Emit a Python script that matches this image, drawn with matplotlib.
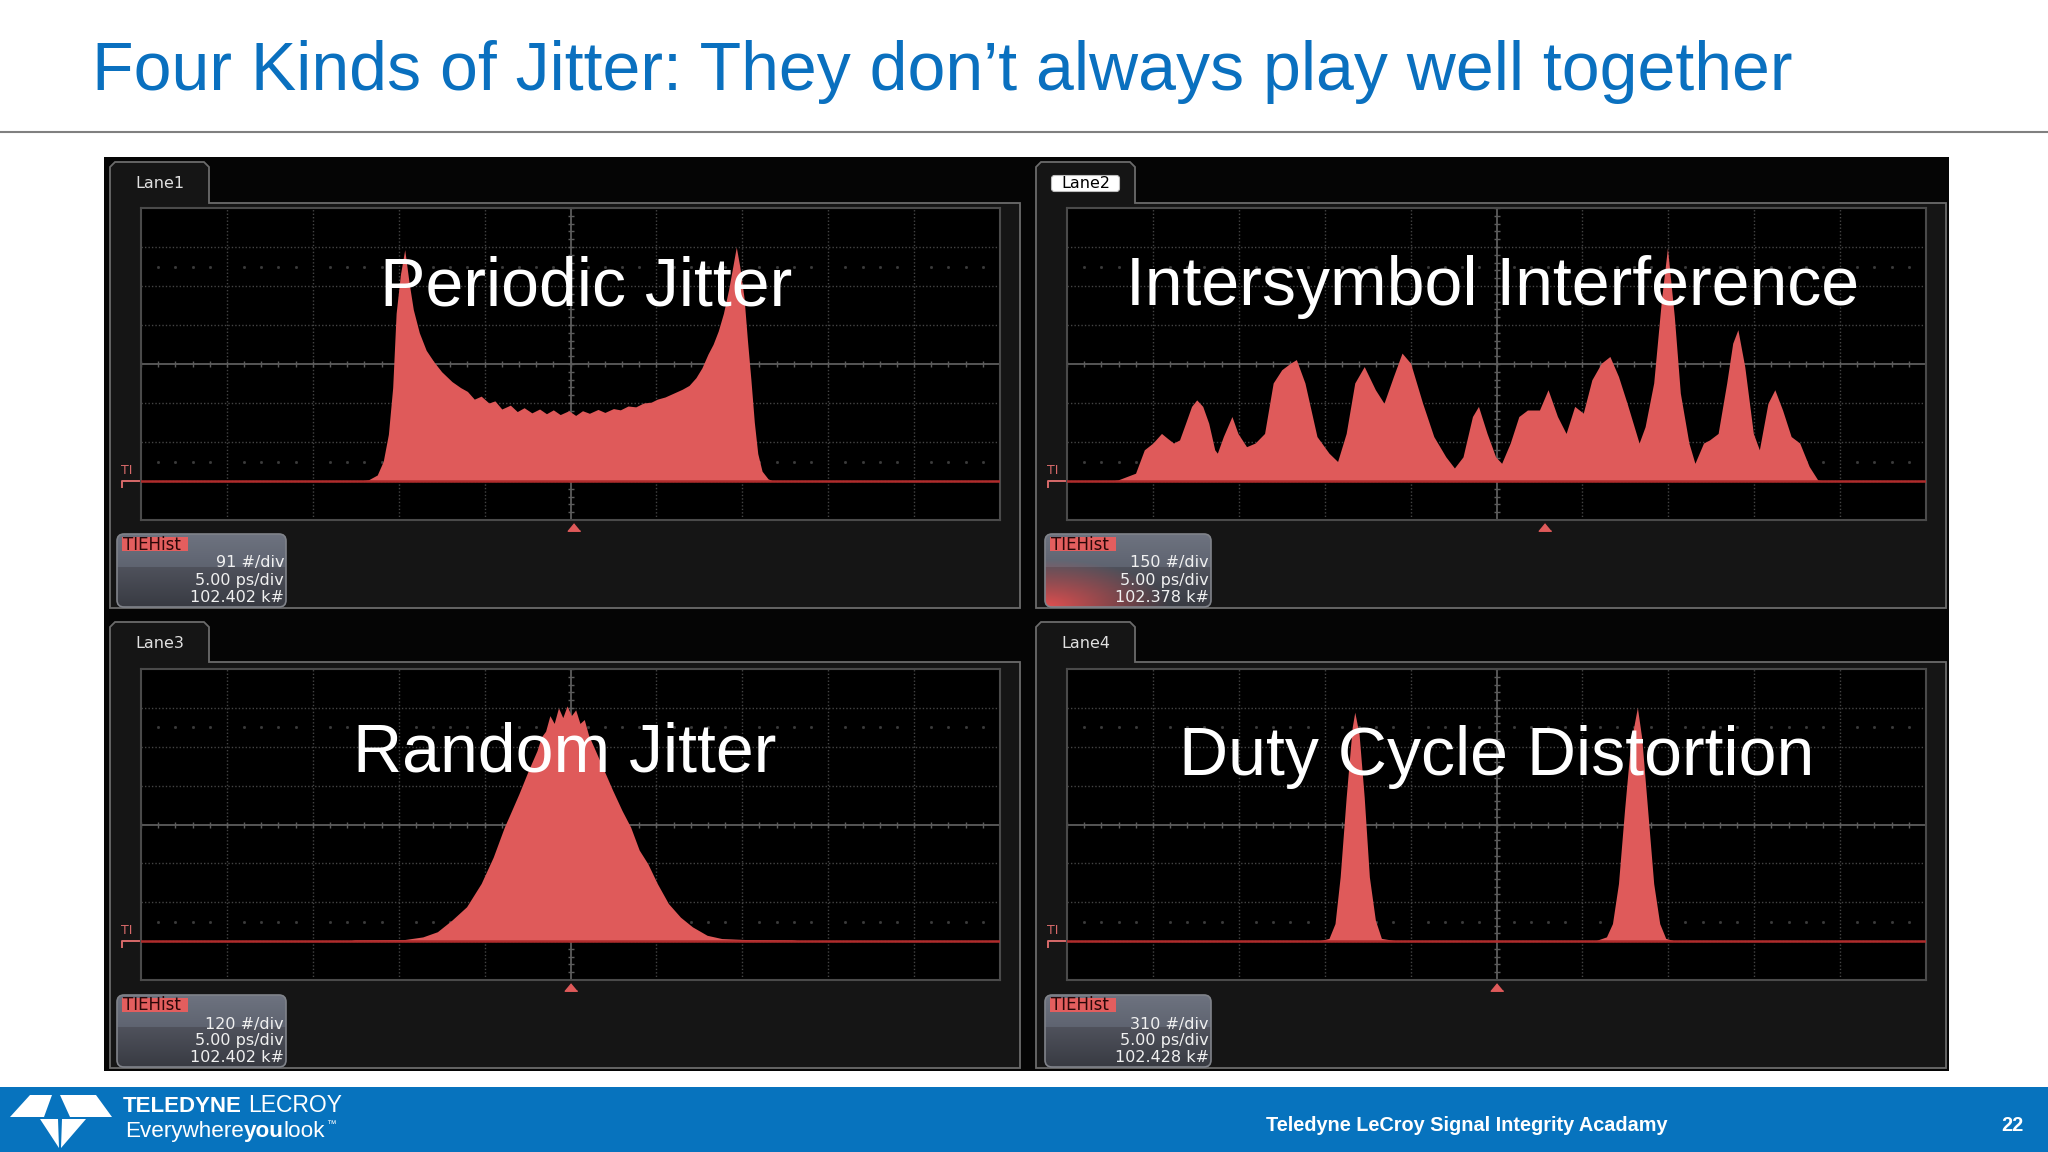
import numpy as np
import matplotlib
matplotlib.use('Agg')
import matplotlib.pyplot as plt
from matplotlib.patches import Rectangle, Polygon, FancyBboxPatch
import matplotlib.transforms as mtransforms

# ---- scope readouts, one entry per lane ----
lanes = ['Lane1', 'Lane2', 'Lane3', 'Lane4']
labels = ['Periodic Jitter', 'Intersymbol Interference', 'Random Jitter', 'Duty Cycle Distortion']
per_div = [91, 150, 120, 310]              # counts per vertical division
time_div = ['5.00 ps/div', '5.00 ps/div', '5.00 ps/div', '5.00 ps/div']
totals = ['102.402 k#', '102.378 k#', '102.402 k#', '102.428 k#']
trigger_ps = [0.2, 2.85, 0.0, 0.0]

# ---- TIE histograms: time (ps) vs counts ----
pj_t = [-12.25, -11.75, -11.25, -10.9, -10.6, -10.35, -10.15, -9.9, -9.65, -9.4,
        -9.15, -8.8, -8.4, -7.95, -7.5, -6.9, -6.4, -6.0, -5.6, -5.2,
        -4.75, -4.4, -4.0, -3.5, -3.1, -2.7, -2.25, -1.8, -1.4, -1.0,
        -0.6, -0.1, 0.3, 0.7, 1.1, 1.6, 2.0, 2.5, 2.9, 3.35,
        3.8, 4.25, 4.7, 5.05, 5.5, 6.0, 6.5, 6.9, 7.3, 7.65,
        8.0, 8.3, 8.6, 8.9, 9.2, 9.45, 9.65, 9.85, 10.1, 10.3,
        10.5, 10.7, 10.9, 11.15, 11.5, 11.8]
pj_n = [0, 3, 14, 46, 109, 218, 391, 482, 540, 464,
        400, 346, 305, 278, 255, 232, 218, 209, 191, 198,
        182, 187, 168, 177, 162, 171, 159, 168, 157, 166,
        155, 164, 153, 164, 158, 167, 160, 169, 166, 175,
        173, 182, 184, 191, 196, 205, 214, 223, 241, 264,
        296, 319, 350, 391, 446, 501, 546, 501, 428, 328,
        237, 137, 64, 23, 5, 0]

isi_t = [-22.5, -22.04, -21.01, -20.5, -20.0, -19.5, -19.15, -18.8, -18.45, -18.1,
         -17.75, -17.45, -17.1, -16.75, -16.4, -16.25, -15.9, -15.4, -15.05, -14.55,
         -14.05, -13.5, -13.0, -12.5, -12.0, -11.65, -11.15, -10.45, -9.75, -9.25,
         -8.75, -8.25, -7.7, -7.05, -6.55, -6.0, -5.5, -5.0, -4.3, -3.65,
         -2.95, -2.45, -1.95, -1.4, -1.05, -0.55, -0.05, 0.3, 0.8, 1.3,
         1.8, 2.5, 3.0, 3.55, 4.05, 4.55, 5.05, 5.55, 6.1, 6.6,
         7.1, 7.6, 8.3, 8.65, 9.15, 9.6, 9.95, 10.35, 10.7, 11.2,
         11.55, 12.05, 12.4, 12.9, 13.4, 13.75, 14.05, 14.45, 14.95, 15.3,
         15.8, 16.2, 16.65, 17.15, 17.65, 18.2, 18.7, 19.05]
isi_n = [0, 4, 30, 120, 146, 183, 164, 146, 158, 222,
         287, 312, 287, 222, 120, 107, 171, 248, 183, 132,
         146, 183, 377, 428, 453, 467, 377, 171, 107, 75,
         183, 377, 440, 351, 299, 402, 492, 453, 299, 171,
         93, 50, 93, 248, 287, 183, 93, 68, 146, 248,
         273, 273, 351, 248, 183, 287, 261, 389, 453, 479,
         402, 299, 146, 209, 377, 696, 896, 633, 338, 146,
         68, 146, 158, 183, 377, 530, 582, 440, 183, 120,
         299, 351, 273, 171, 146, 56, 4, 0]

rj_t = [-13.0, -12.55, -9.65, -8.6, -7.75, -6.9, -6.05, -5.2, -4.5, -3.85,
        -3.5, -3.0, -2.45, -1.95, -1.7, -1.45, -1.2, -0.95, -0.7, -0.45,
        -0.2, 0.05, 0.3, 0.55, 0.8, 1.05, 1.45, 1.95, 2.45, 3.0,
        3.5, 4.0, 4.5, 5.05, 5.7, 6.4, 7.1, 7.95, 8.8, 10.15,
        12.9, 13.5]
rj_n = [0, 4, 5, 13, 29, 65, 106, 178, 259, 352,
        394, 455, 527, 588, 630, 648, 696, 672, 720, 690,
        726, 696, 714, 672, 684, 636, 588, 527, 466, 403,
        352, 281, 239, 178, 116, 74, 44, 18, 8, 5,
        4, 0]

dcd_t = [-10.6, -10.3, -9.75, -9.4, -9.1, -8.75, -8.4, -8.25, -8.0, -7.7,
         -7.4, -7.05, -6.7, -5.85, -5.5,
         5.5, 5.75, 6.4, 6.75, 7.1, 7.45, 7.8, 8.2, 8.45, 8.8,
         9.15, 9.5, 9.85, 10.35, 10.6]
dcd_n = [0, 3, 22, 140, 512, 1147, 1705, 1826, 1652, 1147,
         512, 167, 22, 3, 0,
         0, 3, 34, 140, 459, 1042, 1572, 1863, 1624, 1042,
         459, 140, 22, 3, 0]

hists = [(pj_t, pj_n), (isi_t, isi_n), (rj_t, rj_n), (dcd_t, dcd_n)]

W, H = 2048, 1152
HIST = '#df5a5a'
BLUE = '#0a70bf'
SANS = 'Liberation Sans'

fig = plt.figure(figsize=(W / 100, H / 100), dpi=100)
fig.patch.set_facecolor('white')


def px_axes(x0, y0, x1, y1, **kw):
    return fig.add_axes([x0 / W, 1 - y1 / H, (x1 - x0) / W, (y1 - y0) / H], **kw)


bg = px_axes(0, 0, W, H)
bg.set_xlim(0, W)
bg.set_ylim(H, 0)
bg.axis('off')

# slide title + rule
bg.text(92, 90, 'Four Kinds of Jitter: They don\u2019t always play well together',
        fontsize=49, color=BLUE, family=SANS, va='baseline', ha='left')
bg.plot([0, W], [132, 132], color='#808080', lw=1.5)

# black scope screenshot
bg.add_patch(Rectangle((104, 156.5), 1845, 914.5, fc='#050505', ec='none', zorder=1))

panel_x = [(110, 1020), (1036, 1946), (110, 1020), (1036, 1946)]
panel_y = [(162, 203, 608), (162, 203, 608), (622, 662, 1068), (622, 662, 1068)]
grid_px = [(141, 208, 1000, 520), (1067, 208, 1926, 520),
           (141, 669, 1000, 980), (1067, 669, 1926, 980)]
box_px = [(117, 534, 286, 607), (1045, 534, 1211, 607),
          (117, 995, 286, 1067), (1045, 995, 1211, 1067)]
label_pos = [(586, 305), (1493, 305), (565, 772), (1497, 775)]

for i in range(4):
    x0, x1 = panel_x[i]
    yt, yf, yb = panel_y[i]
    xt = x0 + 99
    verts = [(x0, yb), (x0, yt + 5), (x0 + 5, yt), (xt - 5, yt), (xt, yt + 5),
             (xt, yf), (x1, yf), (x1, yb)]
    bg.add_patch(Polygon(verts, closed=True, fc='#151515', ec='#6b6b6b', lw=1.3, zorder=2))
    cx, cy = x0 + 49.5, (yt + yf) / 2 + 1
    if i == 1:
        bg.add_patch(FancyBboxPatch((cx - 34, cy - 8), 68, 16,
                                    boxstyle='round,pad=0,rounding_size=3',
                                    fc='white', ec='#bbbbbb', lw=0.8, zorder=3))
        bg.text(cx, cy, lanes[i], fontsize=11.5, color='black', ha='center', va='center', zorder=4)
    else:
        bg.text(cx, cy, lanes[i], fontsize=11.5, color='#e0e0e0', ha='center', va='center', zorder=4)


def scope_grid(ax, pd):
    ymin, ymax = -pd, 7 * pd
    ax.set_xlim(-25, 25)
    ax.set_ylim(ymin, ymax)
    ax.set_facecolor('black')
    ax.set_xticks([])
    ax.set_yticks([])
    for s in ax.spines.values():
        s.set_color('#4a4a4a')
        s.set_linewidth(1.5)
    for k in range(1, 10):
        xv = -25 + 5 * k
        if xv == 0:
            ax.axvline(0, color='#5c5c5c', lw=1.3, zorder=1)
        else:
            ax.axvline(xv, color='#444444', lw=1, ls=(0, (1, 1.5)), zorder=1)
    for k in range(1, 8):
        yv = ymin + pd * k
        if k == 4:
            ax.axhline(yv, color='#5c5c5c', lw=1.3, zorder=1)
        else:
            ax.axhline(yv, color='#444444', lw=1, ls=(0, (1, 1.5)), zorder=1)
    tx = np.arange(-25, 25.01, 1.0)
    ax.plot(tx, np.full_like(tx, 3 * pd), ls='none', marker='|', ms=4.5, mew=1,
            color='#5c5c5c', zorder=1)
    ty = np.arange(ymin, ymax + 1e-6, 0.2 * pd)
    ax.plot(np.zeros_like(ty), ty, ls='none', marker='_', ms=4.5, mew=1,
            color='#5c5c5c', zorder=1)
    dx = [v for v in np.arange(-24, 25, 1.0) if v % 5 != 0]
    for yy in (0.5 * pd, 5.5 * pd):
        ax.plot(dx, [yy] * len(dx), ls='none', marker='s', ms=1.0, color='#3c3c3c', zorder=1)


tri = [(0, 0.6), (-1, -0.6), (1, -0.6)]
for i in range(4):
    gx0, gy0, gx1, gy1 = grid_px[i]
    ax = px_axes(gx0, gy0, gx1, gy1)
    pd = per_div[i]
    scope_grid(ax, pd)
    t, n = hists[i]
    ax.fill_between(t, n, 0, color=HIST, lw=0, zorder=3)
    ax.axhline(0, color='#b02c2c', lw=1.8, zorder=4)
    # trigger marker under the grid
    ax.plot([trigger_ps[i]], [-0.022], transform=ax.get_xaxis_transform(), marker=tri,
            ms=9, color=HIST, ls='none', clip_on=False, zorder=5)
    # TI reference marker
    blend = mtransforms.blended_transform_factory(ax.transAxes, ax.transData)
    ax.text(-0.0165, 0.1 * pd, 'TI', transform=blend, fontsize=9, color='#d86a6a',
            ha='center', va='bottom', clip_on=False)
    ax.plot([-0.022, -0.022, -0.001], [-0.16 * pd, 0, 0], transform=blend,
            color='#d86a6a', lw=1.4, clip_on=False)

# overlay for readout boxes and slide labels
fg = px_axes(0, 0, W, H)
fg.patch.set_alpha(0)
fg.axis('off')


def box_gradient(h, w, glow):
    v = np.linspace(0, 1, h)[:, None, None]
    u = np.linspace(0, 1, w)[None, :, None]
    top = np.array([0.43, 0.45, 0.50])
    mid1 = np.array([0.37, 0.39, 0.44])
    mid2 = np.array([0.31, 0.32, 0.36])
    bot = np.array([0.22, 0.23, 0.26])
    rows = np.where(v < 0.45, top + (mid1 - top) * (v / 0.45),
                    mid2 + (bot - mid2) * ((v - 0.45) / 0.55))
    img = np.broadcast_to(rows, (h, w, 3)).copy()
    if glow:
        wgt = np.clip(1 - np.sqrt((u / 0.75) ** 2 + ((1 - v) / 0.65) ** 2), 0, 1) * 0.95
        red = np.array([0.92, 0.32, 0.32])
        img = img * (1 - wgt) + red * wgt
    return img


for i in range(4):
    x0, y0, x1, y1 = box_px[i]
    patch = FancyBboxPatch((x0, y0), x1 - x0, y1 - y0, boxstyle='round,pad=0,rounding_size=7',
                           fc='none', ec='#80838a', lw=1.2, zorder=6)
    fg.add_patch(patch)
    im = fg.imshow(box_gradient(int(y1 - y0), int(x1 - x0), i == 1),
                   extent=(x0, x1, y1, y0), aspect='auto', interpolation='bilinear', zorder=5)
    im.set_clip_path(patch)
    fg.add_patch(Rectangle((x0 + 5, y0 + 3), 66, 14, fc='#e35e5e', ec='none', zorder=7))
    fg.text(x0 + 6, y0 + 10.5, 'TIEHist', fontsize=12, color='#2a0808', ha='left',
            va='center', zorder=8)
    readout = [f'{per_div[i]} #/div', time_div[i], totals[i]]
    for k, s in enumerate(readout):
        fg.text(x1 - 2, y0 + 29 + 17 * k, s, fontsize=11.5, color='#f0f0f0',
                ha='right', va='center', zorder=8)

for i in range(4):
    lx, ly = label_pos[i]
    fg.text(lx, ly, labels[i], fontsize=49, color='white', family=SANS,
            ha='center', va='baseline', zorder=10)

# footer
fg.add_patch(Rectangle((0, 1087), W, 65, fc='#0773be', ec='none', zorder=1))
logo = [
    [(10, 1117), (30, 1095), (52, 1095), (44, 1117)],
    [(60, 1095), (96, 1095), (112, 1117), (70, 1117)],
    [(40, 1119), (58, 1119), (59, 1148)],
    [(62, 1119), (86, 1119), (61, 1148)],
]
for pts in logo:
    fg.add_patch(Polygon(pts, closed=True, fc='white', ec='none', zorder=2))

renderer = fig.canvas.get_renderer()


def run_text(x, y, parts):
    for s, props, gap in parts:
        t = fg.text(x, y, s, va='baseline', ha='left', color='white', zorder=3,
                    family=SANS, **props)
        x += t.get_window_extent(renderer=renderer).width + gap
    return x


run_text(123, 1112, [('TELEDYNE', dict(fontsize=16, weight='bold'), 6),
                     ('LECROY', dict(fontsize=16.5), 0)])
xe = run_text(125, 1137, [('Everywhere', dict(fontsize=16.2), 0),
                          ('you', dict(fontsize=16.2, weight='bold'), 0),
                          ('look', dict(fontsize=16.2), 1)])
fg.text(xe, 1127, '\u2122', fontsize=7, color='white', family=SANS, va='baseline', zorder=3)

fg.text(1266, 1131, 'Teledyne LeCroy Signal Integrity Acadamy', fontsize=14.3, weight='bold',
        color='white', family=SANS, va='baseline', ha='left', zorder=3)
fg.text(2023, 1131, '22', fontsize=14.3, weight='bold', color='white', family=SANS,
        va='baseline', ha='right', zorder=3)

fg.set_xlim(0, W)
fg.set_ylim(H, 0)

fig.savefig('out.png', dpi=100, facecolor='white')
